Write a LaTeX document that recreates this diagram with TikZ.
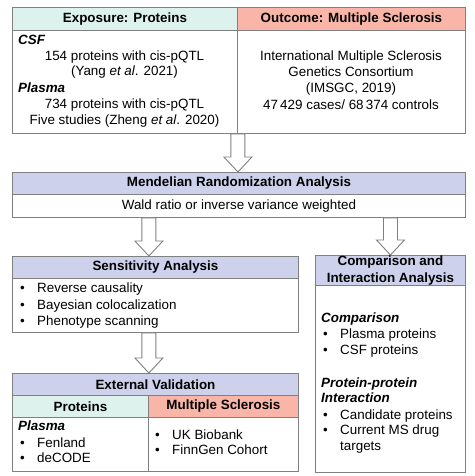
\documentclass[tikz,border=0pt]{standalone}
\usepackage{fontspec}
\setmainfont{Liberation Sans}
\usepackage{tikz}
\usetikzlibrary{calc}

\definecolor{boxgray}{HTML}{808080}
\definecolor{expteal}{HTML}{DDF2EC}
\definecolor{outsalmon}{HTML}{F9B5A7}
\definecolor{mrlavender}{HTML}{CDD1EB}

\newcommand{\diagfont}{\fontsize{13.4pt}{16.3pt}\selectfont}
\newcommand{\bul}{\makebox[17pt][l]{\textbullet}}
\newcommand{\hollowarrow}[2]{%
  \draw[blockarrow] let \p1=#1, \p2=#2 in
    (\x2-7pt,\y1) -- (\x2-7pt,\y2+15pt) -- (\x2-14pt,\y2+15pt) -- (\x2,\y2)
    -- (\x2+14pt,\y2+15pt) -- (\x2+7pt,\y2+15pt) -- (\x2+7pt,\y1) -- cycle;}

\begin{document}
\begin{tikzpicture}
  [x=1pt,y=-1pt,
   box/.style={rectangle, draw=boxgray, line width=0.9pt, fill=white, anchor=north west, inner sep=0pt, font=\diagfont},
   hdr/.style={box, font=\diagfont\bfseries, align=center},
   line/.style={anchor=mid, inner sep=0pt, font=\diagfont},
   item/.style={anchor=mid west, inner sep=0pt, font=\diagfont},
   subhead/.style={item, font=\diagfont\bfseries\itshape},
   blockarrow/.style={draw=boxgray, line width=0.9pt, fill=white, line join=miter}]
  \useasboundingbox (0,0) rectangle (474,476);

  % exposure and outcome
  \node [hdr, fill=expteal, minimum width=225pt, minimum height=23pt] (exph) at (12,7) {Exposure: Proteins};
  \node [hdr, fill=outsalmon, minimum width=228pt, minimum height=23pt] (outh) at (237,7) {Outcome: Multiple Sclerosis};
  \node [box, minimum width=225pt, minimum height=103pt] (expb) at (12,30) {};
  \node [box, minimum width=228pt, minimum height=103pt] (outb) at (237,30) {};

  \node [subhead] (csf) at (18,42) {CSF};
  \node [line] (csfn) at (124.5,58) {154 proteins with cis-pQTL};
  \node [line] (csfref) at (124.5,73) {(Yang \textit{et al}. 2021)};
  \node [subhead] (plasma) at (18,90) {Plasma};
  \node [line] (plasman) at (124.5,106) {734 proteins with cis-pQTL};
  \node [line] (plasmaref) at (124.5,122) {Five studies (Zheng \textit{et al}. 2020)};

  \node [line] (imsgc1) at (351,58) {International Multiple Sclerosis};
  \node [line] (imsgc2) at (351,74) {Genetics Consortium};
  \node [line] (imsgc3) at (351,90) {(IMSGC, 2019)};
  \node [line] (imsgc4) at (351,107) {47\,429 cases/ 68\,374 controls};

  % mendelian randomization
  \node [hdr, fill=mrlavender, minimum width=453pt, minimum height=22pt] (mrh) at (12,172) {Mendelian Randomization Analysis};
  \node [box, minimum width=453pt, minimum height=23pt] (mrb) at (12,194) {Wald ratio or inverse variance weighted};

  % sensitivity
  \node [hdr, fill=mrlavender, minimum width=286pt, minimum height=22pt] (senh) at (12,256) {Sensitivity Analysis};
  \node [box, minimum width=286pt, minimum height=54pt] (senb) at (12,278) {};
  \node [item] (sen1) at (20,290) {\bul Reverse causality};
  \node [item] (sen2) at (20,307) {\bul Bayesian colocalization};
  \node [item] (sen3) at (20,323) {\bul Phenotype scanning};

  % external validation
  \node [hdr, fill=mrlavender, minimum width=286pt, minimum height=22pt] (valh) at (12,373) {External Validation};
  \node [hdr, fill=expteal, minimum width=136pt, minimum height=22pt] (valp) at (12,395) {Proteins};
  \node [hdr, fill=outsalmon, minimum width=150pt, minimum height=22pt] (valm) at (148,395) {Multiple Sclerosis};
  \node [box, minimum width=136pt, minimum height=54pt] (valpb) at (12,417) {};
  \node [box, minimum width=150pt, minimum height=54pt] (valmb) at (148,417) {};
  \node [subhead] (valplasma) at (18,428) {Plasma};
  \node [item] (fenland) at (20,445) {\bul Fenland};
  \node [item] (decode) at (20,460) {\bul deCODE};
  \node [item] (ukb) at (155,437) {\bul UK Biobank};
  \node [item] (finngen) at (155,452) {\bul FinnGen Cohort};

  % comparison and interaction
  \node [hdr, fill=mrlavender, minimum width=150pt, minimum height=30pt] (comh) at (315,255) {Comparison and\\Interaction Analysis};
  \node [box, minimum width=150pt, minimum height=187pt] (comb) at (315,285) {};
  \node [subhead] (comp) at (321,320) {Comparison};
  \node [item] (comp1) at (323,336) {\bul Plasma proteins};
  \node [item] (comp2) at (323,352) {\bul CSF proteins};
  \node [subhead] (ppi1) at (321,385) {Protein-protein};
  \node [subhead] (ppi2) at (321,400) {Interaction};
  \node [item] (ppi3) at (323,417) {\bul Candidate proteins};
  \node [item] (ppi4) at (323,432) {\bul Current MS drug};
  \node [item] (ppi5) at (340,448) {targets};

  % block arrows
  \hollowarrow{(expb.south east)}{(expb.south east |- mrh.north)}
  \hollowarrow{(valp.north east |- mrb.south)}{(valp.north east |- senh.north)}
  \hollowarrow{(comh.north |- mrb.south)}{(comh.north)}
  \hollowarrow{(valp.north east |- senb.south)}{(valp.north east |- valh.north)}
\end{tikzpicture}
\end{document}
